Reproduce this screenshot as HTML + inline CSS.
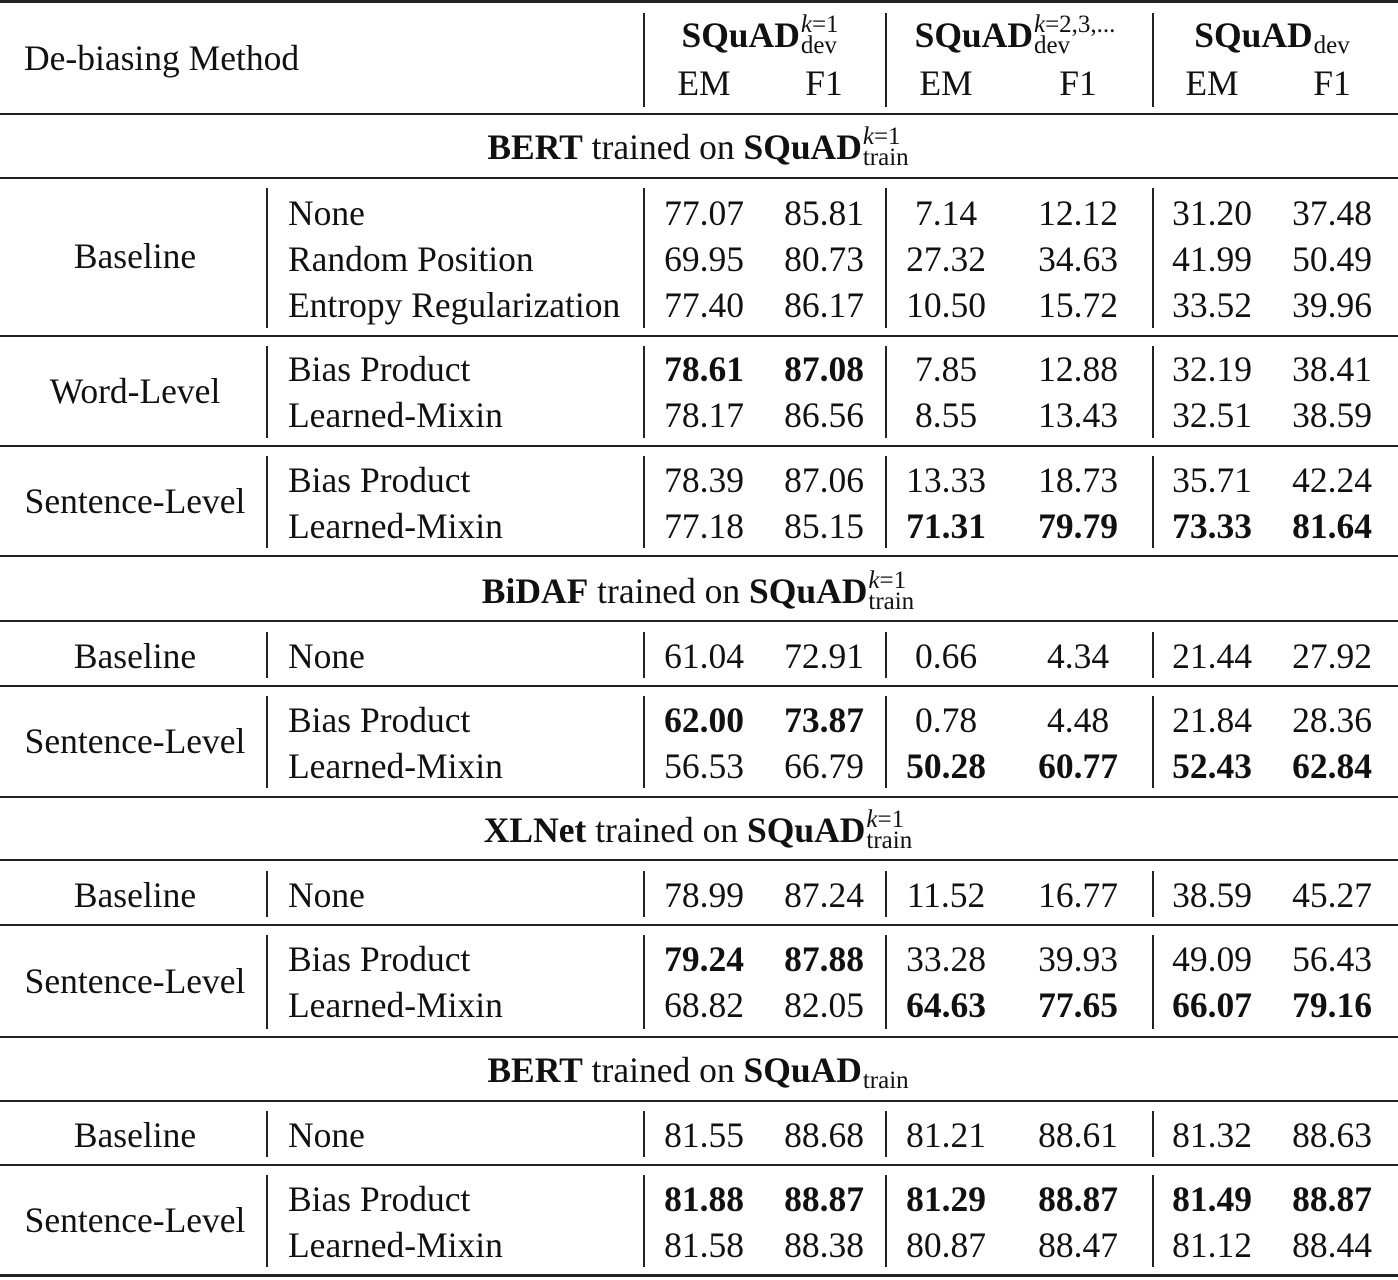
<!DOCTYPE html>
<html><head><meta charset="utf-8"><style>
body{margin:0;width:1398px;height:1280px;background:#fff;position:relative;overflow:hidden;font-family:"Liberation Serif",serif;color:#111;font-size:35.5px}
.t{position:absolute;line-height:46px;white-space:nowrap}
.c{transform:translateX(-50%)}
.h{position:absolute;left:0;width:1398px;height:2px;background:#222}
.v{position:absolute;width:1.5px;background:#222}
b{font-weight:bold}
.ss{display:inline-block;vertical-align:-6px;line-height:21px;text-align:left;margin-left:1px}
.ss span{display:block;font-size:25px}
</style></head><body>
<div class="h" style="top:0;height:3px"></div>
<div class="h" style="top:113px"></div>
<div class="h" style="top:177px"></div>
<div class="h" style="top:335px"></div>
<div class="h" style="top:445px"></div>
<div class="h" style="top:555px"></div>
<div class="h" style="top:620px"></div>
<div class="h" style="top:685px"></div>
<div class="h" style="top:796px"></div>
<div class="h" style="top:859px"></div>
<div class="h" style="top:924px"></div>
<div class="h" style="top:1036px"></div>
<div class="h" style="top:1100px"></div>
<div class="h" style="top:1164px"></div>
<div class="h" style="top:1274px;height:3px"></div>

<div class="v" style="left:643px;top:13px;height:94px"></div>
<div class="v" style="left:885px;top:13px;height:94px"></div>
<div class="v" style="left:1152px;top:13px;height:94px"></div>

<div class="t" style="left:24px;top:35px">De-biasing Method</div>
<div class="t c" style="left:760px;top:12px"><b>SQuAD</b><span class="ss"><span><i>k</i>=1</span><span>dev</span></span></div>
<div class="t c" style="left:1015px;top:12px"><b>SQuAD</b><span class="ss"><span><i>k</i>=2,3,...</span><span>dev</span></span></div>
<div class="t c" style="left:1272px;top:12px"><b>SQuAD</b><span class="ss"><span>&nbsp;</span><span>dev</span></span></div>
<div class="t c" style="left:704px;top:60px">EM</div>
<div class="t c" style="left:824px;top:60px">F1</div>
<div class="t c" style="left:946px;top:60px">EM</div>
<div class="t c" style="left:1078px;top:60px">F1</div>
<div class="t c" style="left:1212px;top:60px">EM</div>
<div class="t c" style="left:1332px;top:60px">F1</div>

<div class="t c" style="left:698px;top:124px"><b>BERT</b> trained on <b>SQuAD</b><span class="ss"><span><i>k</i>=1</span><span>train</span></span></div>
<div class="t c" style="left:698px;top:568px"><b>BiDAF</b> trained on <b>SQuAD</b><span class="ss"><span><i>k</i>=1</span><span>train</span></span></div>
<div class="t c" style="left:698px;top:807px"><b>XLNet</b> trained on <b>SQuAD</b><span class="ss"><span><i>k</i>=1</span><span>train</span></span></div>
<div class="t c" style="left:698px;top:1047px"><b>BERT</b> trained on <b>SQuAD</b><span class="ss"><span>&nbsp;</span><span>train</span></span></div>

<div class="v" style="left:266px;top:188px;height:140px"></div><div class="v" style="left:643px;top:188px;height:140px"></div><div class="v" style="left:885px;top:188px;height:140px"></div><div class="v" style="left:1152px;top:188px;height:140px"></div>
<div class="v" style="left:266px;top:346px;height:92px"></div><div class="v" style="left:643px;top:346px;height:92px"></div><div class="v" style="left:885px;top:346px;height:92px"></div><div class="v" style="left:1152px;top:346px;height:92px"></div>
<div class="v" style="left:266px;top:456px;height:92px"></div><div class="v" style="left:643px;top:456px;height:92px"></div><div class="v" style="left:885px;top:456px;height:92px"></div><div class="v" style="left:1152px;top:456px;height:92px"></div>
<div class="v" style="left:266px;top:632px;height:46px"></div><div class="v" style="left:643px;top:632px;height:46px"></div><div class="v" style="left:885px;top:632px;height:46px"></div><div class="v" style="left:1152px;top:632px;height:46px"></div>
<div class="v" style="left:266px;top:696px;height:92px"></div><div class="v" style="left:643px;top:696px;height:92px"></div><div class="v" style="left:885px;top:696px;height:92px"></div><div class="v" style="left:1152px;top:696px;height:92px"></div>
<div class="v" style="left:266px;top:871px;height:46px"></div><div class="v" style="left:643px;top:871px;height:46px"></div><div class="v" style="left:885px;top:871px;height:46px"></div><div class="v" style="left:1152px;top:871px;height:46px"></div>
<div class="v" style="left:266px;top:935px;height:94px"></div><div class="v" style="left:643px;top:935px;height:94px"></div><div class="v" style="left:885px;top:935px;height:94px"></div><div class="v" style="left:1152px;top:935px;height:94px"></div>
<div class="v" style="left:266px;top:1111px;height:46px"></div><div class="v" style="left:643px;top:1111px;height:46px"></div><div class="v" style="left:885px;top:1111px;height:46px"></div><div class="v" style="left:1152px;top:1111px;height:46px"></div>
<div class="v" style="left:266px;top:1175px;height:92px"></div><div class="v" style="left:643px;top:1175px;height:92px"></div><div class="v" style="left:885px;top:1175px;height:92px"></div><div class="v" style="left:1152px;top:1175px;height:92px"></div>

<div class="t c" style="left:135px;top:233px">Baseline</div>
<div class="t c" style="left:135px;top:368px">Word-Level</div>
<div class="t c" style="left:135px;top:478px">Sentence-Level</div>
<div class="t c" style="left:135px;top:633px">Baseline</div>
<div class="t c" style="left:135px;top:718px">Sentence-Level</div>
<div class="t c" style="left:135px;top:872px">Baseline</div>
<div class="t c" style="left:135px;top:958px">Sentence-Level</div>
<div class="t c" style="left:135px;top:1112px">Baseline</div>
<div class="t c" style="left:135px;top:1197px">Sentence-Level</div>

<div class="t" style="left:288px;top:190px">None</div>
<div class="t" style="left:288px;top:236px">Random Position</div>
<div class="t" style="left:288px;top:282px">Entropy Regularization</div>
<div class="t" style="left:288px;top:346px">Bias Product</div>
<div class="t" style="left:288px;top:392px">Learned-Mixin</div>
<div class="t" style="left:288px;top:457px">Bias Product</div>
<div class="t" style="left:288px;top:503px">Learned-Mixin</div>
<div class="t" style="left:288px;top:633px">None</div>
<div class="t" style="left:288px;top:697px">Bias Product</div>
<div class="t" style="left:288px;top:743px">Learned-Mixin</div>
<div class="t" style="left:288px;top:872px">None</div>
<div class="t" style="left:288px;top:936px">Bias Product</div>
<div class="t" style="left:288px;top:982px">Learned-Mixin</div>
<div class="t" style="left:288px;top:1112px">None</div>
<div class="t" style="left:288px;top:1176px">Bias Product</div>
<div class="t" style="left:288px;top:1222px">Learned-Mixin</div>

<div class="t c" style="left:704px;top:190px">77.07</div><div class="t c" style="left:824px;top:190px">85.81</div><div class="t c" style="left:946px;top:190px">7.14</div><div class="t c" style="left:1078px;top:190px">12.12</div><div class="t c" style="left:1212px;top:190px">31.20</div><div class="t c" style="left:1332px;top:190px">37.48</div>
<div class="t c" style="left:704px;top:236px">69.95</div><div class="t c" style="left:824px;top:236px">80.73</div><div class="t c" style="left:946px;top:236px">27.32</div><div class="t c" style="left:1078px;top:236px">34.63</div><div class="t c" style="left:1212px;top:236px">41.99</div><div class="t c" style="left:1332px;top:236px">50.49</div>
<div class="t c" style="left:704px;top:282px">77.40</div><div class="t c" style="left:824px;top:282px">86.17</div><div class="t c" style="left:946px;top:282px">10.50</div><div class="t c" style="left:1078px;top:282px">15.72</div><div class="t c" style="left:1212px;top:282px">33.52</div><div class="t c" style="left:1332px;top:282px">39.96</div>
<div class="t c" style="left:704px;top:346px"><b>78.61</b></div><div class="t c" style="left:824px;top:346px"><b>87.08</b></div><div class="t c" style="left:946px;top:346px">7.85</div><div class="t c" style="left:1078px;top:346px">12.88</div><div class="t c" style="left:1212px;top:346px">32.19</div><div class="t c" style="left:1332px;top:346px">38.41</div>
<div class="t c" style="left:704px;top:392px">78.17</div><div class="t c" style="left:824px;top:392px">86.56</div><div class="t c" style="left:946px;top:392px">8.55</div><div class="t c" style="left:1078px;top:392px">13.43</div><div class="t c" style="left:1212px;top:392px">32.51</div><div class="t c" style="left:1332px;top:392px">38.59</div>
<div class="t c" style="left:704px;top:457px">78.39</div><div class="t c" style="left:824px;top:457px">87.06</div><div class="t c" style="left:946px;top:457px">13.33</div><div class="t c" style="left:1078px;top:457px">18.73</div><div class="t c" style="left:1212px;top:457px">35.71</div><div class="t c" style="left:1332px;top:457px">42.24</div>
<div class="t c" style="left:704px;top:503px">77.18</div><div class="t c" style="left:824px;top:503px">85.15</div><div class="t c" style="left:946px;top:503px"><b>71.31</b></div><div class="t c" style="left:1078px;top:503px"><b>79.79</b></div><div class="t c" style="left:1212px;top:503px"><b>73.33</b></div><div class="t c" style="left:1332px;top:503px"><b>81.64</b></div>
<div class="t c" style="left:704px;top:633px">61.04</div><div class="t c" style="left:824px;top:633px">72.91</div><div class="t c" style="left:946px;top:633px">0.66</div><div class="t c" style="left:1078px;top:633px">4.34</div><div class="t c" style="left:1212px;top:633px">21.44</div><div class="t c" style="left:1332px;top:633px">27.92</div>
<div class="t c" style="left:704px;top:697px"><b>62.00</b></div><div class="t c" style="left:824px;top:697px"><b>73.87</b></div><div class="t c" style="left:946px;top:697px">0.78</div><div class="t c" style="left:1078px;top:697px">4.48</div><div class="t c" style="left:1212px;top:697px">21.84</div><div class="t c" style="left:1332px;top:697px">28.36</div>
<div class="t c" style="left:704px;top:743px">56.53</div><div class="t c" style="left:824px;top:743px">66.79</div><div class="t c" style="left:946px;top:743px"><b>50.28</b></div><div class="t c" style="left:1078px;top:743px"><b>60.77</b></div><div class="t c" style="left:1212px;top:743px"><b>52.43</b></div><div class="t c" style="left:1332px;top:743px"><b>62.84</b></div>
<div class="t c" style="left:704px;top:872px">78.99</div><div class="t c" style="left:824px;top:872px">87.24</div><div class="t c" style="left:946px;top:872px">11.52</div><div class="t c" style="left:1078px;top:872px">16.77</div><div class="t c" style="left:1212px;top:872px">38.59</div><div class="t c" style="left:1332px;top:872px">45.27</div>
<div class="t c" style="left:704px;top:936px"><b>79.24</b></div><div class="t c" style="left:824px;top:936px"><b>87.88</b></div><div class="t c" style="left:946px;top:936px">33.28</div><div class="t c" style="left:1078px;top:936px">39.93</div><div class="t c" style="left:1212px;top:936px">49.09</div><div class="t c" style="left:1332px;top:936px">56.43</div>
<div class="t c" style="left:704px;top:982px">68.82</div><div class="t c" style="left:824px;top:982px">82.05</div><div class="t c" style="left:946px;top:982px"><b>64.63</b></div><div class="t c" style="left:1078px;top:982px"><b>77.65</b></div><div class="t c" style="left:1212px;top:982px"><b>66.07</b></div><div class="t c" style="left:1332px;top:982px"><b>79.16</b></div>
<div class="t c" style="left:704px;top:1112px">81.55</div><div class="t c" style="left:824px;top:1112px">88.68</div><div class="t c" style="left:946px;top:1112px">81.21</div><div class="t c" style="left:1078px;top:1112px">88.61</div><div class="t c" style="left:1212px;top:1112px">81.32</div><div class="t c" style="left:1332px;top:1112px">88.63</div>
<div class="t c" style="left:704px;top:1176px"><b>81.88</b></div><div class="t c" style="left:824px;top:1176px"><b>88.87</b></div><div class="t c" style="left:946px;top:1176px"><b>81.29</b></div><div class="t c" style="left:1078px;top:1176px"><b>88.87</b></div><div class="t c" style="left:1212px;top:1176px"><b>81.49</b></div><div class="t c" style="left:1332px;top:1176px"><b>88.87</b></div>
<div class="t c" style="left:704px;top:1222px">81.58</div><div class="t c" style="left:824px;top:1222px">88.38</div><div class="t c" style="left:946px;top:1222px">80.87</div><div class="t c" style="left:1078px;top:1222px">88.47</div><div class="t c" style="left:1212px;top:1222px">81.12</div><div class="t c" style="left:1332px;top:1222px">88.44</div>
</body></html>
